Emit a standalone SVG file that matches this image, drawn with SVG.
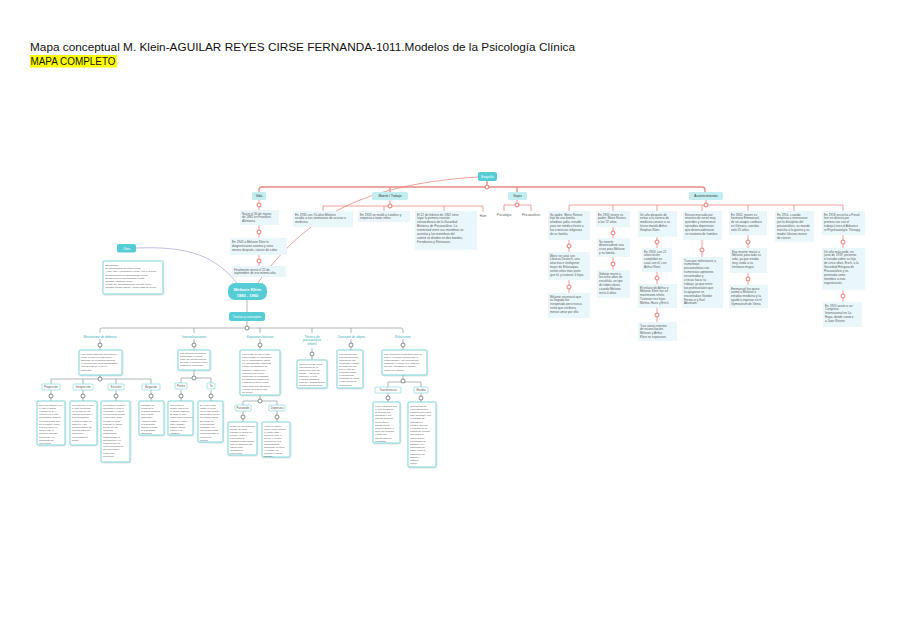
<svg xmlns="http://www.w3.org/2000/svg" width="904" height="640" viewBox="0 0 904 640">
<defs>
<filter id="sh" x="-10%" y="-10%" width="130%" height="130%"><feDropShadow dx="0.4" dy="0.6" stdDeviation="0.5" flood-color="#000" flood-opacity="0.2"/></filter>
<style>
text{font-family:"Liberation Sans",Arial,sans-serif}
.bt{font-size:3.1px;fill:#5a5a5a}
.tt{font-size:2.5px;fill:#555}
.bb{fill:#eaf7fa}
.tb{fill:#fff;stroke:#72d3d9;stroke-width:0.9;filter:url(#sh)}
.lb{fill:#fff;stroke:#72d3d9;stroke-width:0.6}
.l1{fill:#c3eef1}
.l1t{font-size:3.2px;fill:#333;text-anchor:middle}
.cl{font-size:2.8px;fill:#555;text-anchor:middle}
.tl{font-size:3.2px;fill:#2fb0bc;text-anchor:middle}
.main{fill:#56cdd6}
.mt{fill:#fff;text-anchor:middle}
.rl{fill:none;stroke:#e8786d;stroke-width:0.7}
.rlm{fill:none;stroke:#e98b80;stroke-width:1.3}
.gl{fill:none;stroke:#8d999e;stroke-width:0.7}
.rc{fill:#fff;stroke:#e2574c;stroke-width:0.8}
.gc{fill:#fff;stroke:#4f5b60;stroke-width:0.7}
.pl{fill:none;stroke:#b9a9dc;stroke-width:0.8}
</style>
</defs>
<rect width="904" height="640" fill="#fff"/>

<g id="title">
<text x="30" y="50.5" font-size="11.6" fill="#111" textLength="545" lengthAdjust="spacingAndGlyphs">Mapa conceptual M. Klein-AGUILAR REYES CIRSE FERNANDA-1011.Modelos de la Psicología Clínica</text>
<rect x="30" y="55" width="87" height="12.5" fill="#ffff00"/>
<text x="30.5" y="64.5" font-size="10.5" fill="#111" textLength="85" lengthAdjust="spacingAndGlyphs">MAPA COMPLETO</text>
</g>

<g id="connectors">
<path class="pl" d="M136 248 C188 246 216 255 240 287"/>
<path class="rl" d="M257 284 C300 225 350 185 478 177"/>
<path class="rlm" d="M487 181 V187 M259 192 V190 Q259 187 262 187 H702 Q705 187 705 190 V192 M390 187 V192 M517 187 V192"/>
<circle class="rc" cx="487" cy="187" r="2"/>
<path class="rl" d="M259 200 V210 M259 225 V238 M259 255 V266"/>
<circle class="rc" cx="259" cy="205" r="2"/><circle class="rc" cx="259" cy="232" r="2"/><circle class="rc" cx="259" cy="261" r="2"/>
<path class="rl" d="M390 200 V206 M323 211 V206 H483 V212 M384 206 V211 M444 206 V211"/>
<circle class="rc" cx="390" cy="206" r="2"/>
<path class="rl" d="M517 200 V205 M504 211 V205 H531 V211"/>
<circle class="rc" cx="517" cy="205" r="2"/>
<path class="rl" d="M706 200 V205 M569 211 V205 H843 V211 M613 205 V211 M657 205 V211 M702 205 V211 M748 205 V211 M794 205 V211"/>
<circle class="rc" cx="706" cy="205" r="2"/>
<path class="rl" d="M569 240 V252 M569 280 V293 M613 227 V238 M613 257 V270 M657 237 V248 M657 272 V284 M657 308 V322 M702 240 V257 M748 235 V248 M748 273 V285 M843 235 V248 M843 290 V302"/>
<circle class="rc" cx="569" cy="246" r="2"/><circle class="rc" cx="569" cy="287" r="2"/>
<circle class="rc" cx="613" cy="233" r="2"/><circle class="rc" cx="613" cy="264" r="2"/>
<circle class="rc" cx="657" cy="242" r="2"/><circle class="rc" cx="657" cy="278" r="2"/><circle class="rc" cx="657" cy="315" r="2"/>
<circle class="rc" cx="702" cy="250" r="2"/>
<circle class="rc" cx="748" cy="242" r="2"/><circle class="rc" cx="748" cy="279" r="2"/>
<circle class="rc" cx="843" cy="242" r="2"/><circle class="rc" cx="843" cy="296" r="2"/>

<path class="gl" d="M247 300 V312 M247 321 V328 M100 333 V330 Q100 328 102 328 H401 Q403 328 403 330 V333 M194 328 V333 M260 328 V333 M312 328 V333 M351 328 V333"/>
<circle class="gc" cx="247" cy="328" r="2"/>
<path class="gl" d="M100 339 V350 M100 375 V379 M51 384 V379 H151 V384 M83 379 V384 M116 379 V384 M51 390 V401 M83 390 V401 M116 390 V401 M151 390 V401"/>
<circle class="gc" cx="100" cy="345" r="2"/><circle class="gc" cx="100" cy="379" r="2"/>
<circle class="gc" cx="51" cy="396" r="2"/><circle class="gc" cx="83" cy="396" r="2"/><circle class="gc" cx="116" cy="396" r="2"/><circle class="gc" cx="151" cy="396" r="2"/>
<path class="gl" d="M194 339 V350 M194 370 V378 M181 383 V378 H211 V383 M181 390 V401 M211 390 V401"/>
<circle class="gc" cx="194" cy="345" r="2"/><circle class="gc" cx="194" cy="378" r="2"/>
<circle class="gc" cx="181" cy="396" r="2"/><circle class="gc" cx="211" cy="396" r="2"/>
<path class="gl" d="M260 339 V350 M260 395 V401 M243 405 V401 H277 V405 M243 411 V422 M277 411 V422"/>
<circle class="gc" cx="260" cy="345" r="2"/><circle class="gc" cx="260" cy="401" r="2"/>
<circle class="gc" cx="243" cy="417" r="2"/><circle class="gc" cx="277" cy="417" r="2"/>
<path class="gl" d="M312 348 V360"/>
<circle class="gc" cx="312" cy="354" r="2"/>
<path class="gl" d="M351 339 V350"/>
<circle class="gc" cx="351" cy="345" r="2"/>
<path class="gl" d="M403 339 V350 M403 375 V382 M388 387 V382 H421 V387 M388 393 V402 M421 393 V402"/>
<circle class="gc" cx="403" cy="345" r="2"/><circle class="gc" cx="403" cy="381" r="2"/>
<circle class="gc" cx="388" cy="398" r="2"/><circle class="gc" cx="421" cy="398" r="2"/>
</g>

<g id="melanie-klein">
<rect class="main" x="228" y="283" width="39" height="17" rx="7"/>
<text class="mt" x="247.5" y="290.5" font-size="4.3" font-weight="bold">Melanie Klein</text>
<text class="mt" x="247.5" y="296.5" font-size="4" font-weight="bold">1882 - 1960</text>
</g>

<g id="biografia">
<rect class="main" x="478" y="172" width="19" height="9" rx="2"/>
<text class="mt" x="487.5" y="177.8" font-size="3.2">Biografía</text>
</g>

<g id="obra">
<rect class="main" x="117" y="244" width="19" height="8.5" rx="2"/>
<text class="mt" x="126.5" y="249.5" font-size="3.3">Obra</text>
</g>
<g id="obra-texto">
<rect class="tb" x="103" y="261" width="60" height="33" rx="1"/>
<text class="tt"><tspan x="105.5" y="266">Bibliografía:</tspan><tspan x="105.5" dy="3.2">El psicoanálisis de niños (1932).</tspan><tspan x="105.5" dy="3.2">Amor, odio y reparación (1937), con J. Riviere.</tspan><tspan x="105.5" dy="3.2">Contribuciones al psicoanálisis (1948).</tspan><tspan x="105.5" dy="3.2">Desarrollos en psicoanálisis (1952).</tspan><tspan x="105.5" dy="3.2">Envidia y gratitud (1957).</tspan><tspan x="105.5" dy="3.2">Relato del psicoanálisis de un niño (1961).</tspan><tspan x="105.5" dy="3.2">Nuestro mundo adulto y otros ensayos (1963).</tspan></text>
</g>

<g id="vida"><rect class="l1" x="252" y="192" width="14" height="8" rx="1.5"/><text class="l1t" x="259" y="197.2">Vida</text></g>
<g id="muerte-trabajo"><rect class="l1" x="372" y="192" width="36" height="8" rx="1.5"/><text class="l1t" x="390" y="197.2">Muerte / Trabajo</text></g>
<g id="viajes"><rect class="l1" x="508" y="192" width="19" height="8" rx="1.5"/><text class="l1t" x="517.5" y="197.2">Viajes</text></g>
<g id="acontecimientos"><rect class="l1" x="689" y="192" width="34" height="8" rx="1.5"/><text class="l1t" x="706" y="197.2">Acontecimientos</text></g>

<g id="vida-1"><rect class="bb" x="240" y="210" width="39" height="15"/><text class="bt"><tspan x="242" y="214.5">Nació el 30 de marzo</tspan><tspan x="242" dy="3.9">de 1882 en Frankfurt,</tspan><tspan x="242" dy="3.9">Alemania.</tspan></text></g>
<g id="vida-2"><rect class="bb" x="230" y="238" width="57" height="17"/><text class="bt"><tspan x="232" y="243">En 1943 a Melanie Klein le</tspan><tspan x="232" dy="3.9">diagnosticaron anemia y unos</tspan><tspan x="232" dy="3.9">meses después, cáncer de colon</tspan></text></g>
<g id="vida-3"><rect class="bb" x="232" y="266" width="54" height="11"/><text class="bt"><tspan x="234" y="270.5">Finalmente murió el 22 de</tspan><tspan x="234" dy="3.9">septiembre de ese mismo año.</tspan></text></g>

<g id="muerte-1"><rect class="bb" x="293" y="211" width="60" height="16"/><text class="bt"><tspan x="295" y="215.5">En 1936 con 74 años Melanie</tspan><tspan x="295" dy="3.9">acudía a sus seminarios de acceso a</tspan><tspan x="295" dy="3.9">medicina.</tspan></text></g>
<g id="muerte-2"><rect class="bb" x="358" y="211" width="52" height="11"/><text class="bt"><tspan x="360" y="215.5">En 1926 se mudó a Londres y</tspan><tspan x="360" dy="3.9">empieza a tratar niños.</tspan></text></g>
<g id="muerte-3"><rect class="bb" x="415" y="211" width="62" height="39"/><text class="bt"><tspan x="417" y="215.5">El 22 de febrero de 1942 tiene</tspan><tspan x="417" dy="3.9">lugar la primera reunión</tspan><tspan x="417" dy="3.9">extraordinaria de la Sociedad</tspan><tspan x="417" dy="3.9">Británica de Psicoanálisis. La</tspan><tspan x="417" dy="3.9">enemistad entre sus miembros se</tspan><tspan x="417" dy="3.9">acentúa y los miembros del</tspan><tspan x="417" dy="3.9">comité se dividen en dos bandos,</tspan><tspan x="417" dy="3.9">Freudianos y Kleinianos.</tspan></text></g>
<g id="muerte-4"><text class="bt" x="483" y="216.5" text-anchor="middle">Ham</text></g>

<g id="viajes-1"><text class="bt" x="504" y="216" text-anchor="middle">Psicología</text></g>
<g id="viajes-2"><text class="bt" x="531" y="216" text-anchor="middle">Psicoanálisis</text></g>

<g id="acont-1a"><rect class="bb" x="548" y="211" width="42" height="29"/><text class="bt"><tspan x="550" y="215.5">Su padre, Moriz Reizes,</tspan><tspan x="550" dy="3.9">hijo de una familia</tspan><tspan x="550" dy="3.9">ortodoxa judía, estudió</tspan><tspan x="550" dy="3.9">para ser médico frente a</tspan><tspan x="550" dy="3.9">las creencias religiosas</tspan><tspan x="550" dy="3.9">de su familia.</tspan></text></g>
<g id="acont-1b"><rect class="bb" x="548" y="252" width="42" height="28"/><text class="bt"><tspan x="550" y="256.5">Moriz se casó con</tspan><tspan x="550" dy="3.9">Libussa Deutsch, una</tspan><tspan x="550" dy="3.9">atractiva e inteligente</tspan><tspan x="550" dy="3.9">mujer de Eslovaquia,</tspan><tspan x="550" dy="3.9">veinte años más joven</tspan><tspan x="550" dy="3.9">que él, y tuvieron 4 hijos.</tspan></text></g>
<g id="acont-1c"><rect class="bb" x="548" y="293" width="42" height="25"/><text class="bt"><tspan x="550" y="297.5">Melanie reconoció que</tspan><tspan x="550" dy="3.9">su llegada fue</tspan><tspan x="550" dy="3.9">inesperada pero nunca</tspan><tspan x="550" dy="3.9">sintió que recibiera</tspan><tspan x="550" dy="3.9">menos amor por ello.</tspan></text></g>

<g id="acont-2a"><rect class="bb" x="596" y="211" width="34" height="16"/><text class="bt"><tspan x="598" y="215.5">En 1900 muere su</tspan><tspan x="598" dy="3.9">padre, Moriz Reizes,</tspan><tspan x="598" dy="3.9">a los 72 años.</tspan></text></g>
<g id="acont-2b"><rect class="bb" x="597" y="238" width="33" height="19"/><text class="bt"><tspan x="599" y="242.5">Su muerte</tspan><tspan x="599" dy="3.9">desencadenó una</tspan><tspan x="599" dy="3.9">crisis para Melanie</tspan><tspan x="599" dy="3.9">y su familia.</tspan></text></g>
<g id="acont-2c"><rect class="bb" x="597" y="270" width="33" height="28"/><text class="bt"><tspan x="599" y="274.5">Sidonie murió a</tspan><tspan x="599" dy="3.9">los ocho años de</tspan><tspan x="599" dy="3.9">escrófula, un tipo</tspan><tspan x="599" dy="3.9">de tuberculosis,</tspan><tspan x="599" dy="3.9">cuando Melanie</tspan><tspan x="599" dy="3.9">tenía 4 años.</tspan></text></g>

<g id="acont-3a"><rect class="bb" x="638" y="211" width="39" height="26"/><text class="bt"><tspan x="640" y="215.5">Un año después de</tspan><tspan x="640" dy="3.9">entrar a la carrera de</tspan><tspan x="640" dy="3.9">medicina conoce a su</tspan><tspan x="640" dy="3.9">futuro marido Arthur</tspan><tspan x="640" dy="3.9">Stephan Klein.</tspan></text></g>
<g id="acont-3b"><rect class="bb" x="642" y="248" width="30" height="24"/><text class="bt"><tspan x="644" y="252.5">En 1903, con 21</tspan><tspan x="644" dy="3.9">años recién</tspan><tspan x="644" dy="3.9">cumplidos se</tspan><tspan x="644" dy="3.9">casa con él, con</tspan><tspan x="644" dy="3.9">Arthur Klein.</tspan></text></g>
<g id="acont-3c"><rect class="bb" x="638" y="284" width="39" height="24"/><text class="bt"><tspan x="640" y="288.5">El enlace de Arthur y</tspan><tspan x="640" dy="3.9">Melanie Klein fue un</tspan><tspan x="640" dy="3.9">matrimonio infeliz.</tspan><tspan x="640" dy="3.9">Tuvieron tres hijos:</tspan><tspan x="640" dy="3.9">Melitta, Hans y Erich.</tspan></text></g>
<g id="acont-3d"><rect class="bb" x="638" y="322" width="39" height="19"/><text class="bt"><tspan x="640" y="326.5">Tras varios intentos</tspan><tspan x="640" dy="3.9">de reconciliación,</tspan><tspan x="640" dy="3.9">Melanie y Arthur</tspan><tspan x="640" dy="3.9">Klein se separaron.</tspan></text></g>

<g id="acont-4a"><rect class="bb" x="683" y="211" width="39" height="29"/><text class="bt"><tspan x="685" y="215.5">Estuvo marcada por</tspan><tspan x="685" dy="3.9">muertes de seres muy</tspan><tspan x="685" dy="3.9">queridos y numerosos</tspan><tspan x="685" dy="3.9">episodios depresivos</tspan><tspan x="685" dy="3.9">que desencadenaron</tspan><tspan x="685" dy="3.9">un trastorno de hambre.</tspan></text></g>
<g id="acont-4b"><rect class="bb" x="682" y="257" width="41" height="51"/><text class="bt"><tspan x="684" y="261.5">Tuvo que enfrentarse a</tspan><tspan x="684" dy="3.9">numerosos</tspan><tspan x="684" dy="3.9">psicoanalistas con</tspan><tspan x="684" dy="3.9">numerosas opiniones</tspan><tspan x="684" dy="3.9">encontradas y</tspan><tspan x="684" dy="3.9">críticas hacia su</tspan><tspan x="684" dy="3.9">trabajo, ya que entre</tspan><tspan x="684" dy="3.9">los profesionales que</tspan><tspan x="684" dy="3.9">la apoyaron se</tspan><tspan x="684" dy="3.9">encontraban Sándor</tspan><tspan x="684" dy="3.9">Ferenczi y Karl</tspan><tspan x="684" dy="3.9">Abraham.</tspan></text></g>

<g id="acont-5a"><rect class="bb" x="729" y="211" width="38" height="24"/><text class="bt"><tspan x="731" y="215.5">En 1902, muere su</tspan><tspan x="731" dy="3.9">hermano Emmanuel,</tspan><tspan x="731" dy="3.9">de un ataque cardíaco</tspan><tspan x="731" dy="3.9">en Génova, contaba</tspan><tspan x="731" dy="3.9">solo 25 años.</tspan></text></g>
<g id="acont-5b"><rect class="bb" x="730" y="248" width="37" height="25"/><text class="bt"><tspan x="732" y="252.5">Esa muerte marcó a</tspan><tspan x="732" dy="3.9">Melanie para toda su</tspan><tspan x="732" dy="3.9">vida, ya que estaba</tspan><tspan x="732" dy="3.9">muy unida a su</tspan><tspan x="732" dy="3.9">hermano mayor.</tspan></text></g>
<g id="acont-5c"><rect class="bb" x="729" y="285" width="39" height="23"/><text class="bt"><tspan x="731" y="289.5">Emmanuel fue quien</tspan><tspan x="731" dy="3.9">animó a Melanie a</tspan><tspan x="731" dy="3.9">estudiar medicina y la</tspan><tspan x="731" dy="3.9">ayudó a ingresar en el</tspan><tspan x="731" dy="3.9">Gymnasium de Viena.</tspan></text></g>

<g id="acont-6a"><rect class="bb" x="775" y="211" width="39" height="31"/><text class="bt"><tspan x="777" y="215.5">En 1914, cuando</tspan><tspan x="777" dy="3.9">empieza a interesarse</tspan><tspan x="777" dy="3.9">por la disciplina del</tspan><tspan x="777" dy="3.9">psicoanálisis, su marido</tspan><tspan x="777" dy="3.9">marcha a la guerra y su</tspan><tspan x="777" dy="3.9">madre Libussa muere</tspan><tspan x="777" dy="3.9">de cáncer.</tspan></text></g>

<g id="acont-7a"><rect class="bb" x="822" y="211" width="43" height="24"/><text class="bt"><tspan x="824" y="215.5">En 1918 escucha a Freud</tspan><tspan x="824" dy="3.9">leer en directo por</tspan><tspan x="824" dy="3.9">primera vez con el</tspan><tspan x="824" dy="3.9">trabajo Lines of Advance</tspan><tspan x="824" dy="3.9">in Psychoanalytic Therapy.</tspan></text></g>
<g id="acont-7b"><rect class="bb" x="822" y="248" width="43" height="42"/><text class="bt"><tspan x="824" y="252.5">Un año más tarde, en</tspan><tspan x="824" dy="3.9">junio de 1919, presenta</tspan><tspan x="824" dy="3.9">el estudio sobre su hijo</tspan><tspan x="824" dy="3.9">de cinco años, Erich, a la</tspan><tspan x="824" dy="3.9">Sociedad Húngara de</tspan><tspan x="824" dy="3.9">Psicoanálisis y es</tspan><tspan x="824" dy="3.9">premiada como</tspan><tspan x="824" dy="3.9">miembro a esta</tspan><tspan x="824" dy="3.9">organización.</tspan></text></g>
<g id="acont-7c"><rect class="bb" x="823" y="302" width="39" height="25"/><text class="bt"><tspan x="825" y="306.5">En 1920 asiste a un</tspan><tspan x="825" dy="3.9">Congreso</tspan><tspan x="825" dy="3.9">Internacional en La</tspan><tspan x="825" dy="3.9">Haya, donde conoce</tspan><tspan x="825" dy="3.9">a Joan Riviere.</tspan></text></g>

<g id="teorias">
<rect class="main" x="229" y="312" width="36" height="9" rx="2.5" fill="#6fd6dd"/>
<text class="mt" x="247" y="317.8" font-size="3.2">Teorías y conceptos</text>
</g>

<g id="mecanismo"><text class="tl" x="100" y="337.5">Mecanismo de defensa</text></g>
<g id="mecanismo-texto"><rect class="tb" x="79" y="350" width="43" height="25" rx="1"/><text class="tt"><tspan x="81" y="354.5">Son respuestas que describen el</tspan><tspan x="81" dy="3.2">modo en que los individuos</tspan><tspan x="81" dy="3.2">afrontan los conflictos internos</tspan><tspan x="81" dy="3.2">y externos que generan angustia,</tspan><tspan x="81" dy="3.2">protegiendo al yo de la</tspan><tspan x="81" dy="3.2">ansiedad.</tspan></text></g>
<g id="proyeccion"><rect class="lb" x="42" y="384" width="18" height="6" rx="0.8"/><text class="cl" x="51" y="388">Proyección</text></g>
<g id="introyeccion"><rect class="lb" x="73" y="384" width="20" height="6" rx="0.8"/><text class="cl" x="83" y="388">Introyección</text></g>
<g id="escision"><rect class="lb" x="108" y="384" width="16" height="6" rx="0.8"/><text class="cl" x="116" y="388">Escisión</text></g>
<g id="negacion"><rect class="lb" x="142" y="384" width="18" height="6" rx="0.8"/><text class="cl" x="151" y="388">Negación</text></g>
<g id="proyeccion-texto"><rect class="tb" x="37" y="401" width="28" height="44" rx="1"/><text class="tt"><tspan x="39" y="405.5">Es el mecanismo por</tspan><tspan x="39" dy="3.2">el cual el sujeto</tspan><tspan x="39" dy="3.2">expulsa de sí y</tspan><tspan x="39" dy="3.2">localiza en el otro</tspan><tspan x="39" dy="3.2">cualidades, deseos</tspan><tspan x="39" dy="3.2">o sentimientos que</tspan><tspan x="39" dy="3.2">no reconoce como</tspan><tspan x="39" dy="3.2">propios. Klein lo</tspan><tspan x="39" dy="3.2">asocia con la</tspan><tspan x="39" dy="3.2">posición esquizo-</tspan><tspan x="39" dy="3.2">paranoide y la</tspan><tspan x="39" dy="3.2">identificación</tspan><tspan x="39" dy="3.2">proyectiva.</tspan></text></g>
<g id="introyeccion-texto"><rect class="tb" x="70" y="401" width="27" height="44" rx="1"/><text class="tt"><tspan x="72" y="405.5">Proceso por el cual</tspan><tspan x="72" dy="3.2">el niño incorpora</tspan><tspan x="72" dy="3.2">en su interior los</tspan><tspan x="72" dy="3.2">objetos externos y</tspan><tspan x="72" dy="3.2">sus cualidades.</tspan><tspan x="72" dy="3.2">Forma la base del</tspan><tspan x="72" dy="3.2">superyó y del</tspan><tspan x="72" dy="3.2">mundo interno de</tspan><tspan x="72" dy="3.2">objetos buenos y</tspan><tspan x="72" dy="3.2">malos que</tspan><tspan x="72" dy="3.2">acompañan al</tspan><tspan x="72" dy="3.2">sujeto.</tspan></text></g>
<g id="escision-texto"><rect class="tb" x="101" y="401" width="29" height="61" rx="1"/><text class="tt"><tspan x="103" y="405.5">Mecanismo primitivo</tspan><tspan x="103" dy="3.2">mediante el cual el</tspan><tspan x="103" dy="3.2">yo separa el objeto</tspan><tspan x="103" dy="3.2">en una parte buena</tspan><tspan x="103" dy="3.2">y una parte mala.</tspan><tspan x="103" dy="3.2">Permite al bebé</tspan><tspan x="103" dy="3.2">proteger el objeto</tspan><tspan x="103" dy="3.2">bueno de los</tspan><tspan x="103" dy="3.2">impulsos</tspan><tspan x="103" dy="3.2">destructivos,</tspan><tspan x="103" dy="3.2">manteniendo la</tspan><tspan x="103" dy="3.2">idealización y la</tspan><tspan x="103" dy="3.2">persecución en</tspan><tspan x="103" dy="3.2">polos opuestos de</tspan><tspan x="103" dy="3.2">su experiencia</tspan><tspan x="103" dy="3.2">emocional</tspan><tspan x="103" dy="3.2">temprana.</tspan></text></g>
<g id="negacion-texto"><rect class="tb" x="139" y="401" width="25" height="34" rx="1"/><text class="tt"><tspan x="141" y="405.5">Consiste en</tspan><tspan x="141" dy="3.2">rechazar la</tspan><tspan x="141" dy="3.2">realidad psíquica</tspan><tspan x="141" dy="3.2">que resulta</tspan><tspan x="141" dy="3.2">intolerable.</tspan><tspan x="141" dy="3.2">Aparece junto</tspan><tspan x="141" dy="3.2">a la defensa</tspan><tspan x="141" dy="3.2">maníaca frente</tspan><tspan x="141" dy="3.2">a la angustia</tspan><tspan x="141" dy="3.2">depresiva.</tspan></text></g>

<g id="internalizaciones"><text class="tl" x="194" y="337.5">Internalizaciones</text></g>
<g id="internalizaciones-texto"><rect class="tb" x="178" y="350" width="32" height="20" rx="1"/><text class="tt"><tspan x="180" y="354">Los objetos externos se</tspan><tspan x="180" dy="3.1">interiorizan y forman</tspan><tspan x="180" dy="3.1">parte del mundo interno</tspan><tspan x="180" dy="3.1">del niño e influyen en su</tspan><tspan x="180" dy="3.1">desarrollo emocional.</tspan></text></g>
<g id="pecho"><rect class="lb" x="175" y="383" width="12" height="6" rx="0.8"/><text class="cl" x="181" y="387">Pecho</text></g>
<g id="yo"><rect class="lb" x="207" y="383" width="8" height="6" rx="0.8"/><text class="cl" x="211" y="387">Yo</text></g>
<g id="pecho-texto"><rect class="tb" x="168" y="401" width="25" height="34" rx="1"/><text class="tt"><tspan x="170" y="405.5">Para Klein el</tspan><tspan x="170" dy="3.2">primer objeto es</tspan><tspan x="170" dy="3.2">el pecho materno.</tspan><tspan x="170" dy="3.2">El bebé lo vive</tspan><tspan x="170" dy="3.2">como bueno cuando</tspan><tspan x="170" dy="3.2">gratifica y como</tspan><tspan x="170" dy="3.2">malo cuando</tspan><tspan x="170" dy="3.2">frustra, dando</tspan><tspan x="170" dy="3.2">origen a la</tspan><tspan x="170" dy="3.2">escisión.</tspan></text></g>
<g id="yo-texto"><rect class="tb" x="198" y="401" width="25" height="41" rx="1"/><text class="tt"><tspan x="200" y="405.5">El yo se forma</tspan><tspan x="200" dy="3.2">desde el inicio</tspan><tspan x="200" dy="3.2">de la vida a partir</tspan><tspan x="200" dy="3.2">de la introyección</tspan><tspan x="200" dy="3.2">del objeto bueno.</tspan><tspan x="200" dy="3.2">Es capaz de</tspan><tspan x="200" dy="3.2">experimentar</tspan><tspan x="200" dy="3.2">angustia y de</tspan><tspan x="200" dy="3.2">utilizar defensas</tspan><tspan x="200" dy="3.2">primitivas ante la</tspan><tspan x="200" dy="3.2">pulsión de</tspan><tspan x="200" dy="3.2">muerte.</tspan></text></g>

<g id="supuestos"><text class="tl" x="260" y="337.5">Supuestos básicos</text></g>
<g id="supuestos-texto"><rect class="tb" x="240" y="350" width="40" height="45" rx="1"/><text class="tt"><tspan x="242" y="354.5">Klein parte de que el niño</tspan><tspan x="242" dy="3.2">posee desde el nacimiento</tspan><tspan x="242" dy="3.2">un yo rudimentario capaz</tspan><tspan x="242" dy="3.2">de experimentar ansiedad,</tspan><tspan x="242" dy="3.2">utilizar mecanismos de</tspan><tspan x="242" dy="3.2">defensa y establecer</tspan><tspan x="242" dy="3.2">relaciones de objeto</tspan><tspan x="242" dy="3.2">primitivas en la fantasía.</tspan><tspan x="242" dy="3.2">El desarrollo psíquico se</tspan><tspan x="242" dy="3.2">organiza en torno a dos</tspan><tspan x="242" dy="3.2">posiciones que alternan a</tspan><tspan x="242" dy="3.2">lo largo de toda la vida</tspan><tspan x="242" dy="3.2">del sujeto.</tspan></text></g>
<g id="paranoide"><rect class="lb" x="235" y="405" width="16" height="6" rx="0.8"/><text class="cl" x="243" y="409">Paranoide</text></g>
<g id="depresiva"><rect class="lb" x="269" y="405" width="16" height="6" rx="0.8"/><text class="cl" x="277" y="409">Depresiva</text></g>
<g id="paranoide-texto"><rect class="tb" x="228" y="422" width="29" height="33" rx="1"/><text class="tt"><tspan x="230" y="426.5">Surge en los primeros</tspan><tspan x="230" dy="3.1">meses. El bebé</tspan><tspan x="230" dy="3.1">escinde el objeto en</tspan><tspan x="230" dy="3.1">bueno y malo y</tspan><tspan x="230" dy="3.1">predomina la</tspan><tspan x="230" dy="3.1">angustia persecutoria</tspan><tspan x="230" dy="3.1">ante la amenaza del</tspan><tspan x="230" dy="3.1">objeto malo,</tspan><tspan x="230" dy="3.1">utilizando la</tspan><tspan x="230" dy="3.1">proyección.</tspan></text></g>
<g id="depresiva-texto"><rect class="tb" x="262" y="422" width="28" height="35" rx="1"/><text class="tt"><tspan x="264" y="426.5">Hacia el cuarto</tspan><tspan x="264" dy="3.0">mes el bebé integra</tspan><tspan x="264" dy="3.0">el objeto total y</tspan><tspan x="264" dy="3.0">reconoce que lo</tspan><tspan x="264" dy="3.0">bueno y lo malo</tspan><tspan x="264" dy="3.0">pertenecen a la</tspan><tspan x="264" dy="3.0">misma madre,</tspan><tspan x="264" dy="3.0">surgiendo la culpa</tspan><tspan x="264" dy="3.0">y el deseo de</tspan><tspan x="264" dy="3.0">reparar el objeto</tspan><tspan x="264" dy="3.0">dañado.</tspan></text></g>

<g id="tecnica"><text class="tl"><tspan x="312" y="337.5">Técnica de</tspan><tspan x="312" dy="3.8">psicoanálisis</tspan><tspan x="312" dy="3.8">infantil</tspan></text></g>
<g id="tecnica-texto"><rect class="tb" x="297" y="360" width="30" height="28" rx="1"/><text class="tt"><tspan x="299" y="364.5">Utiliza el juego como</tspan><tspan x="299" dy="3.1">equivalente de la</tspan><tspan x="299" dy="3.1">asociación libre del</tspan><tspan x="299" dy="3.1">adulto. A través de</tspan><tspan x="299" dy="3.1">juguetes, el niño</tspan><tspan x="299" dy="3.1">expresa fantasías,</tspan><tspan x="299" dy="3.1">deseos y angustias que</tspan><tspan x="299" dy="3.1">pueden interpretarse.</tspan></text></g>

<g id="concepto-objeto"><text class="tl" x="351" y="337.5">Concepto de objeto</text></g>
<g id="concepto-objeto-texto"><rect class="tb" x="337" y="350" width="26" height="38" rx="1"/><text class="tt"><tspan x="339" y="354.5">Los objetos son</tspan><tspan x="339" dy="3.1">representaciones</tspan><tspan x="339" dy="3.1">internas de las</tspan><tspan x="339" dy="3.1">personas o partes</tspan><tspan x="339" dy="3.1">de ellas con las</tspan><tspan x="339" dy="3.1">que el niño se</tspan><tspan x="339" dy="3.1">relaciona desde</tspan><tspan x="339" dy="3.1">el nacimiento,</tspan><tspan x="339" dy="3.1">cargadas de amor</tspan><tspan x="339" dy="3.1">y odio según su</tspan><tspan x="339" dy="3.1">experiencia.</tspan></text></g>

<g id="relaciones"><text class="tl" x="403" y="337.5">Relaciones</text></g>
<g id="relaciones-texto"><rect class="tb" x="382" y="350" width="45" height="25" rx="1"/><text class="tt"><tspan x="384" y="354.5">Las relaciones tempranas entre el</tspan><tspan x="384" dy="3.2">bebé y la madre determinan la</tspan><tspan x="384" dy="3.2">personalidad y los vínculos que</tspan><tspan x="384" dy="3.2">establece el sujeto a lo largo de</tspan><tspan x="384" dy="3.2">su vida, reflejando el mundo</tspan><tspan x="384" dy="3.2">interno de objetos.</tspan></text></g>
<g id="transferencia"><rect class="lb" x="375" y="387" width="26" height="6" rx="0.8"/><text class="cl" x="388" y="391">Transferencia</text></g>
<g id="envidia"><rect class="lb" x="414" y="387" width="14" height="6" rx="0.8"/><text class="cl" x="421" y="391">Envidia</text></g>
<g id="transferencia-texto"><rect class="tb" x="373" y="402" width="27" height="41" rx="1"/><text class="tt"><tspan x="375" y="406.5">Klein considera que</tspan><tspan x="375" dy="3.2">el niño transfiere</tspan><tspan x="375" dy="3.2">al analista las</tspan><tspan x="375" dy="3.2">fantasías y los</tspan><tspan x="375" dy="3.2">objetos internos,</tspan><tspan x="375" dy="3.2">por lo que la</tspan><tspan x="375" dy="3.2">transferencia</tspan><tspan x="375" dy="3.2">aparece desde el</tspan><tspan x="375" dy="3.2">inicio del análisis</tspan><tspan x="375" dy="3.2">y debe ser</tspan><tspan x="375" dy="3.2">interpretada de</tspan><tspan x="375" dy="3.2">inmediato.</tspan></text></g>
<g id="envidia-texto"><rect class="tb" x="408" y="402" width="28" height="65" rx="1"/><text class="tt"><tspan x="410" y="406.5">Sentimiento de</tspan><tspan x="410" dy="3.2">enojo hacia otra</tspan><tspan x="410" dy="3.2">persona que posee</tspan><tspan x="410" dy="3.2">algo deseable, con</tspan><tspan x="410" dy="3.2">el impulso de</tspan><tspan x="410" dy="3.2">quitárselo o</tspan><tspan x="410" dy="3.2">dañarlo. Es una</tspan><tspan x="410" dy="3.2">expresión de la</tspan><tspan x="410" dy="3.2">pulsión de muerte</tspan><tspan x="410" dy="3.2">que ataca al</tspan><tspan x="410" dy="3.2">objeto bueno,</tspan><tspan x="410" dy="3.2">dificultando la</tspan><tspan x="410" dy="3.2">gratitud y la</tspan><tspan x="410" dy="3.2">capacidad de</tspan><tspan x="410" dy="3.2">amar. Klein la</tspan><tspan x="410" dy="3.2">desarrolló en</tspan><tspan x="410" dy="3.2">Envidia y</tspan><tspan x="410" dy="3.2">gratitud</tspan><tspan x="410" dy="3.2">(1957).</tspan></text></g>
</svg>
